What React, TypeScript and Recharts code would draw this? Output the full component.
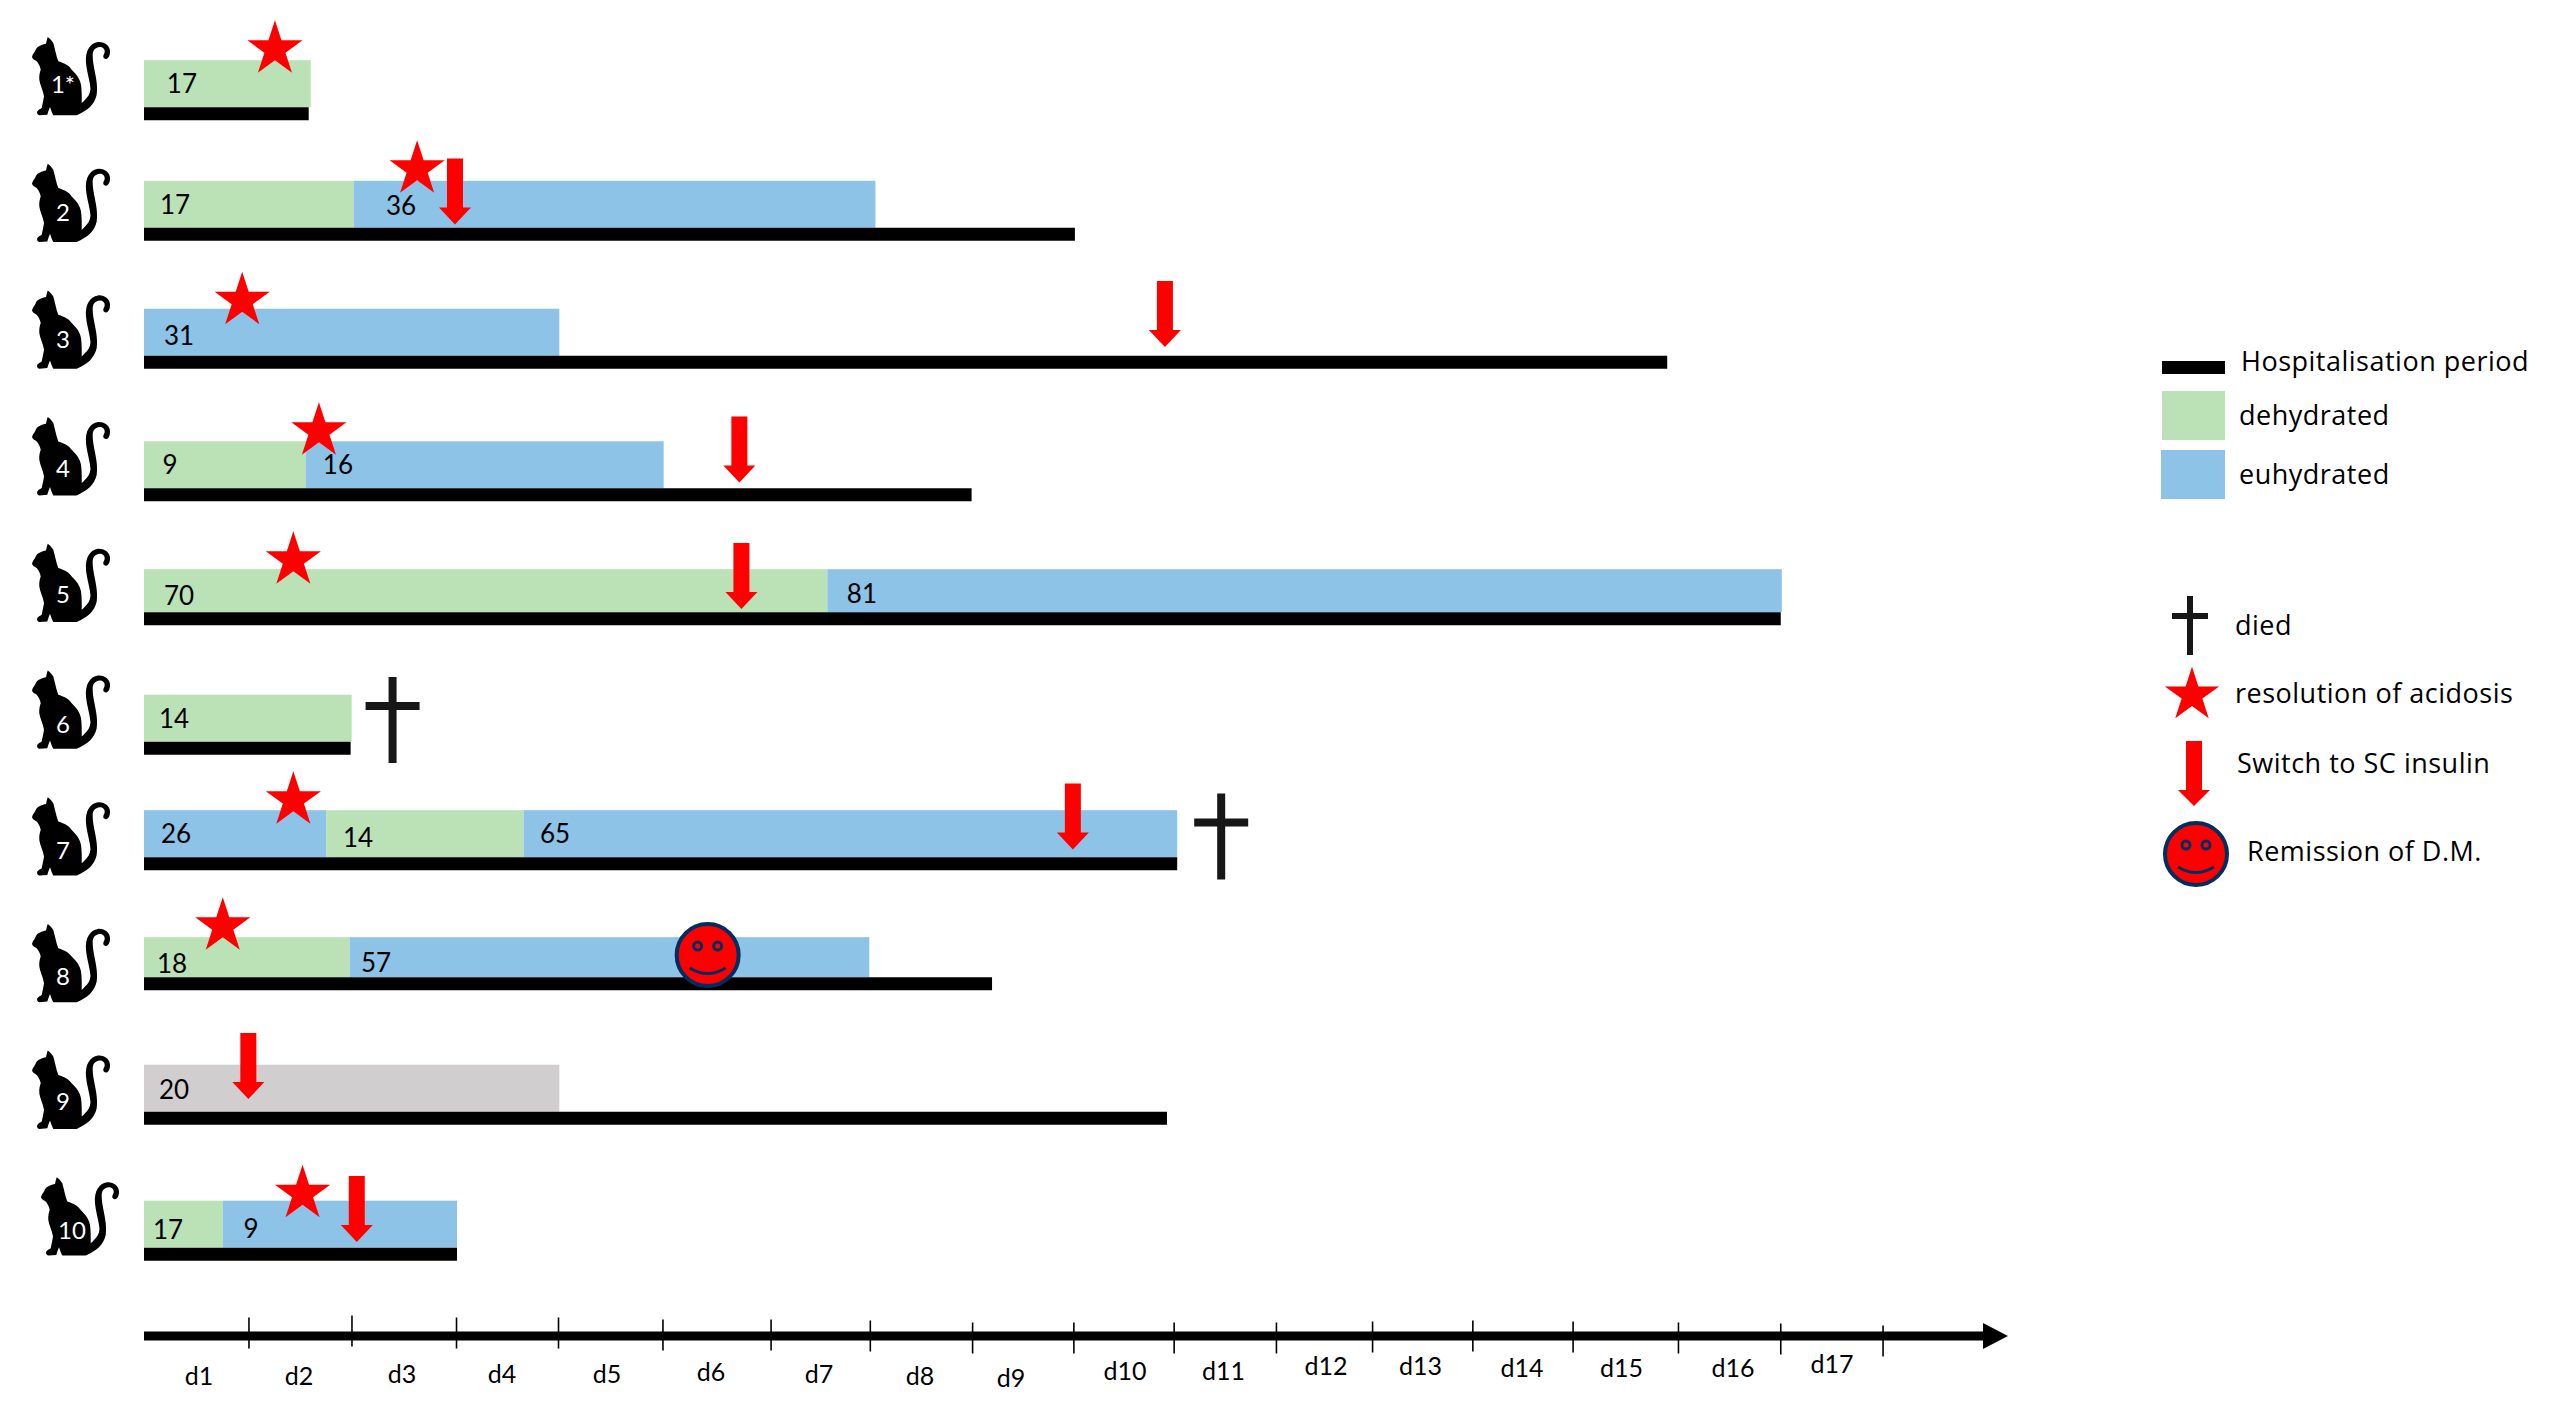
import React from "react";
import { Bar, ComposedChart, Legend, ReferenceDot, Scatter, XAxis, YAxis } from "recharts";

const catNames = ["1*", "2", "3", "4", "5", "6", "7", "8", "9", "10"];
const catLanes = [1, 2, 3, 4, 5, 6, 7, 8, 9, 10];
const barLanes = [1.11, 2.062, 3.072, 4.118, 5.096, 6.118, 7.03, 7.977, 9.039, 10.112];

const euhydratedEarly = [0, 0, 0, 0, 0, 0, 1.78, 0, 0, 0];
const dehydrated = [1.63, 2.05, 0, 1.58, 6.68, 2.03, 1.93, 2.01, 0, 0.77];
const euhydrated = [0, 5.1, 4.06, 3.5, 9.33, 0, 6.39, 5.08, 0, 2.29];
const unknownState = [0, 0, 0, 0, 0, 0, 0, 0, 4.06, 0];
const hospitalisation = [1.61, 9.1, 14.89, 8.09, 16, 2.02, 10.1, 8.29, 10, 3.06];

const hourValues = [17, 17, 36, 31, 9, 16, 70, 81, 14, 26, 14, 65, 18, 57, 20, 17, 9];
const hourDays = [0.371, 0.303, 2.512, 0.342, 0.254, 1.896, 0.342, 7.018, 0.293, 0.313, 2.092, 4.018, 0.274, 2.268, 0.293, 0.235, 1.046];
const hourLanes = [1.055, 2.014, 2.022, 3.044, 4.062, 4.062, 5.096, 5.08, 6.067, 6.973, 7.005, 6.973, 8, 7.992, 8.995, 10.104, 10.096];

const acidosisDays = [1.28, 2.67, 0.96, 1.71, 1.46, 1.46, 0.77, 1.55];
const acidosisLanes = [0.767, 1.714, 2.752, 3.782, 4.8, 6.694, 7.689, 9.8];
const insulinDays = [3.04, 9.98, 5.82, 5.84, 9.08, 1.02, 2.08];
const insulinLanes = [1.912, 2.878, 3.948, 4.946, 6.844, 8.814, 9.942];
const diedDays = [2.43, 10.53];
const diedLanes = [6.083, 7.002];
const remissionDays = [5.51];
const remissionLanes = [7.938];

const tickDays = [1.026, 2.033, 3.055, 4.052, 5.073, 6.13, 7.1, 8.1, 9.09, 10.07, 11.07, 12.01, 12.99, 13.97, 15, 16, 17];
const dayLabels = ["d1", "d2", "d3", "d4", "d5", "d6", "d7", "d8", "d9", "d10", "d11", "d12", "d13", "d14", "d15", "d16", "d17"];
const dayLabelCentres = [0.538, 1.515, 2.522, 3.5, 4.526, 5.543, 6.598, 7.586, 8.475, 9.589, 10.552, 11.554, 12.478, 13.47, 14.443, 15.533, 16.501];

const legendText = {
  hospital: "Hospitalisation period",
  dehydrated: "dehydrated",
  euhydrated: "euhydrated",
  died: "died",
  acidosis: "resolution of acidosis",
  insulin: "Switch to SC insulin",
  remission: "Remission of D.M.",
};

const FONT = "Lato, 'Noto Sans', sans-serif";
const LEGEND_FONT = "'Open Sans', 'Noto Sans', sans-serif";
const GREEN = "#BBE2B6";
const BLUE = "#8CC3E7";
const GREY = "#D0CECE";
const RED = "#FF0000";
const NAVY = "#002F5F";
const DOMAIN_X: [number, number] = [0, 17.977];
const DOMAIN_Y: [number, number] = [0.4, 10.937];
const SEGMENT_H = 47;
const HOSPITAL_H = 13;
const topTrim: Record<string, number> = { "5": 4, "8": 7 };
const tickDrift = [-3, -5, -3, -3, -1, -1, 0, 2, 2, 2, 2, 1, 0, 1, 2, 3, 5];
const labelDrop = [9, 9, 7, 7, 7, 5, 7, 9, 11, 4, 4, -1, -1, 1, 1, 1, -3];
const catNumberDrop = [7, 9, 9, 11, 11, 14, 13, 13, 11, 13];

const rows = catNames.map((cat, i) => ({
  cat,
  lane: barLanes[i],
  euhydratedEarly: euhydratedEarly[i],
  dehydrated: dehydrated[i],
  euhydrated: euhydrated[i],
  unknownState: unknownState[i],
  hospitalisation: hospitalisation[i],
}));
const hourPoints = hourValues.map((value, i) => ({ value, day: hourDays[i], spot: hourLanes[i] }));
const zipPoints = (days: number[], lanes: number[]) => days.map((day, i) => ({ day, spot: lanes[i] }));

const starPoints = (cx: number, cy: number, R: number) => {
  const top = cy - (R * (1 + Math.cos(Math.PI / 5))) / 2;
  const centre = top + R;
  const pts: string[] = [];
  for (let i = 0; i < 10; i++) {
    const r = i % 2 === 0 ? R : R * 0.382;
    const a = -Math.PI / 2 + (i * Math.PI) / 5;
    pts.push(`${cx + r * Math.cos(a)},${centre + r * Math.sin(a)}`);
  }
  return pts.join(" ");
};

const Star = ({ cx, cy }: any) => <polygon points={starPoints(cx, cy, 29)} fill={RED} />;

const drawArrow = (cx: number, top: number, tip: number, headStart: number) => (
  <polygon
    points={`${cx - 8},${top} ${cx + 8},${top} ${cx + 8},${headStart} ${cx + 16},${headStart} ${cx},${tip} ${cx - 16},${headStart} ${cx - 8},${headStart}`}
    fill={RED}
  />
);
const Arrow = ({ cx, cy }: any) => drawArrow(cx, cy - 33, cy + 33, cy + 16);

const drawCross = (cx: number, top: number, bottom: number, armY: number, half: number, w: number) => (
  <g stroke="#171717" strokeWidth={w} fill="none">
    <line x1={cx} x2={cx} y1={top} y2={bottom} />
    <line x1={cx - half} x2={cx + half} y1={armY} y2={armY} />
  </g>
);
const Cross = ({ cx, cy }: any) => drawCross(cx, cy - 43, cy + 43, cy - 14, 27, 8);

const drawSmiley = (cx: number, cy: number, rx: number, ry: number) => (
  <g>
    <ellipse cx={cx} cy={cy} rx={rx - 2} ry={ry - 2} fill={RED} stroke={NAVY} strokeWidth={4} />
    <ellipse cx={cx - 10} cy={cy - 9} rx={4} ry={4} fill={RED} stroke={NAVY} strokeWidth={3} />
    <ellipse cx={cx + 10} cy={cy - 9} rx={4} ry={4} fill={RED} stroke={NAVY} strokeWidth={3} />
    <path d={`M${cx - 18},${cy + 13} Q${cx},${cy + 24} ${cx + 18},${cy + 13}`} fill="none" stroke={NAVY} strokeWidth={3} />
  </g>
);
const Smiley = ({ cx, cy }: any) => drawSmiley(cx, cy, 33, 33);

const HourLabel = ({ cx, cy, payload }: any) => (
  <text x={cx} y={cy} textAnchor="middle" dominantBaseline="central" fontFamily={FONT} fontSize={26} fill="#000">
    {payload.value}
  </text>
);

const Segment = ({ x, y, width, height, fill, payload }: any) => {
  if (!width || width <= 0) return null;
  const trim = topTrim[payload.cat] ?? 0;
  return <rect x={x} y={y + trim} width={width} height={height - trim} fill={fill} />;
};

const CAT_PATH =
  "M15.7,0 C18,1.5 20,4 21.3,6 C23,12 24,18 26.3,24.3 C33,26.5 37,28.5 39.7,32.7 C45,38 48,42 49,47.7 C49.8,53 49.8,60 49.7,66 C51,65 52,64 53,62.7 C56,60 58,57 58.5,52 C58,44 55,36 54,26 C53,14 58,6 66,5 C73,4.5 78,9 78,14.3 C78,18 77,21.5 74,22 C71,21.5 70.5,19.5 72.5,16 C73.5,12.5 71,10 68,10 C62.5,10.5 60.5,14 60.7,19 C60.7,27 64,38 64.7,46 C65.3,52 65,55 64.7,57.7 C63.5,63 61,67 58,70 C54,73.5 50,76 44.7,78.3 L21.3,78.3 C20,76 19,73 18,70 C17,72.5 16,75 15.3,77.7 L7.3,78.3 C5.5,78 4.5,76 5.3,74.3 C6.5,72.5 8.5,72 9.7,71 C10.5,67 11.5,63 12,59.3 C11,53 8,48 7.3,42.7 C7,38 8,35 8.7,32.7 C8,29 6.5,26.5 4.7,24.3 C2.5,23 0.5,22 0,20 C0.5,17.5 2,16 3,14.3 C4,11 6,9.5 8,8.7 C10,7.5 12,7 14,6.7 C14.5,4.5 15,2 15.7,0 Z";

const CatTick = ({ y, payload }: any) => {
  const i = payload.value - 1;
  const shift = i === 9 ? 9 : 0;
  return (
    <g>
      <path transform={`translate(${32 + shift},${y - 39})`} d={CAT_PATH} fill="#000" />
      <text
        x={63 + shift}
        y={y + catNumberDrop[i]}
        textAnchor="middle"
        dominantBaseline="central"
        fontFamily={FONT}
        fontSize={24}
        fill="#fff"
      >
        {catNames[i]}
      </text>
    </g>
  );
};

const MarkTick = ({ x, y, index }: any) => (
  <line x1={x} x2={x} y1={y + tickDrift[index] - 15.5} y2={y + tickDrift[index] + 15.5} stroke="#000" strokeWidth={1.6} />
);

const DayTick = ({ x, y, index }: any) => (
  <text x={x} y={y + labelDrop[index]} textAnchor="middle" dominantBaseline="central" fontFamily={FONT} fontSize={25} fill="#000">
    {dayLabels[index]}
  </text>
);

const AxisHead = ({ cx, cy }: any) => <polygon points={`${cx},${cy - 13} ${cx + 25},${cy} ${cx},${cy + 13}`} fill="#000" />;

const LegendText = ({ x, y, children }: any) => (
  <text x={x} y={y} fontFamily={LEGEND_FONT} fontSize={27} letterSpacing={0.5} fill="#000">
    {children}
  </text>
);

const LegendPanel = () => (
  <svg width={2558} height={1401} style={{ position: "absolute", left: 0, top: 0, overflow: "visible", pointerEvents: "none" }}>
    <rect x={2162} y={361} width={63} height={13} fill="#000" />
    <rect x={2162} y={391} width={63} height={49} fill={GREEN} />
    <rect x={2161} y={450} width={64} height={49} fill={BLUE} />
    <LegendText x={2241} y={371}>{legendText.hospital}</LegendText>
    <LegendText x={2239} y={425}>{legendText.dehydrated}</LegendText>
    <LegendText x={2239} y={484}>{legendText.euhydrated}</LegendText>
    {drawCross(2190, 596, 655, 616, 18, 6)}
    <LegendText x={2235} y={635}>{legendText.died}</LegendText>
    <polygon points={starPoints(2192, 692.5, 28.5)} fill={RED} />
    <LegendText x={2235} y={703}>{legendText.acidosis}</LegendText>
    {drawArrow(2194, 741, 806, 790)}
    <LegendText x={2237} y={773}>{legendText.insulin}</LegendText>
    {drawSmiley(2196, 854, 33, 33)}
    <LegendText x={2247} y={861}>{legendText.remission}</LegendText>
  </svg>
);

export default function App() {
  return (
    <div style={{ position: "absolute", left: 0, top: 0, width: 2558, height: 1401, background: "#fff", overflow: "hidden" }}>
      <ComposedChart
        width={2558}
        height={1401}
        data={rows}
        layout="vertical"
        margin={{ top: 0, right: 575, bottom: 0, left: 0 }}
        barGap={0}
      >
        <XAxis
          xAxisId="names"
          type="number"
          domain={DOMAIN_X}
          ticks={dayLabelCentres}
          interval={0}
          height={35}
          tickSize={0}
          tickMargin={0}
          tickLine={false}
          axisLine={false}
          tick={<DayTick />}
          allowDataOverflow
        />
        <XAxis
          xAxisId="marks"
          type="number"
          domain={DOMAIN_X}
          ticks={tickDays}
          interval={0}
          height={30}
          tickSize={0}
          tickMargin={0}
          tickLine={false}
          axisLine={{ stroke: "#000", strokeWidth: 9 }}
          tick={<MarkTick />}
          allowDataOverflow
        />
        <YAxis
          yAxisId="rows"
          type="number"
          dataKey="lane"
          domain={[0.4, 10.945]}
          ticks={catLanes}
          interval={0}
          width={144}
          tickLine={false}
          axisLine={false}
          tick={<CatTick />}
          allowDataOverflow
        />
        <YAxis yAxisId="overlay" type="number" dataKey="spot" domain={[0.4, 10.945]} hide allowDataOverflow />
        <Bar xAxisId="marks" yAxisId="rows" dataKey="euhydratedEarly" stackId="state" barSize={SEGMENT_H} fill={BLUE} shape={<Segment />} isAnimationActive={false} />
        <Bar xAxisId="marks" yAxisId="rows" dataKey="dehydrated" stackId="state" barSize={SEGMENT_H} fill={GREEN} shape={<Segment />} isAnimationActive={false} />
        <Bar xAxisId="marks" yAxisId="rows" dataKey="euhydrated" stackId="state" barSize={SEGMENT_H} fill={BLUE} shape={<Segment />} isAnimationActive={false} />
        <Bar xAxisId="marks" yAxisId="rows" dataKey="unknownState" stackId="state" barSize={SEGMENT_H} fill={GREY} shape={<Segment />} isAnimationActive={false} />
        <Bar xAxisId="marks" yAxisId="rows" dataKey="hospitalisation" stackId="stay" barSize={HOSPITAL_H} fill="#000" isAnimationActive={false} />
        <Scatter xAxisId="marks" yAxisId="overlay" data={hourPoints} dataKey="day" shape={<HourLabel />} isAnimationActive={false} />
        <Scatter xAxisId="marks" yAxisId="overlay" data={zipPoints(acidosisDays, acidosisLanes)} dataKey="day" shape={<Star />} isAnimationActive={false} />
        <Scatter xAxisId="marks" yAxisId="overlay" data={zipPoints(insulinDays, insulinLanes)} dataKey="day" shape={<Arrow />} isAnimationActive={false} />
        <Scatter xAxisId="marks" yAxisId="overlay" data={zipPoints(diedDays, diedLanes)} dataKey="day" shape={<Cross />} isAnimationActive={false} />
        <Scatter xAxisId="marks" yAxisId="overlay" data={zipPoints(remissionDays, remissionLanes)} dataKey="day" shape={<Smiley />} isAnimationActive={false} />
        <ReferenceDot xAxisId="marks" yAxisId="overlay" x={DOMAIN_X[1]} y={10.945} ifOverflow="visible" shape={<AxisHead />} />
        <Legend content={<LegendPanel />} wrapperStyle={{ position: "absolute", left: 0, top: 0, width: 0, height: 0 }} />
      </ComposedChart>
    </div>
  );
}
